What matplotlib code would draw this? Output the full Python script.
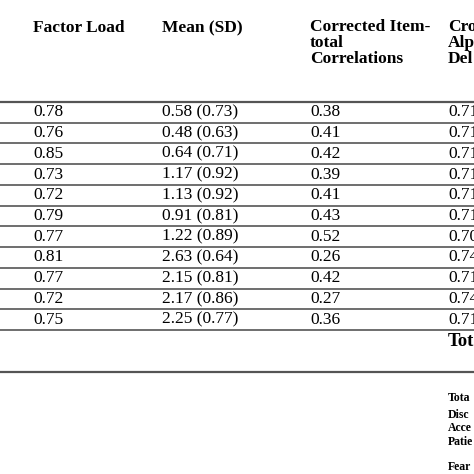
import matplotlib
matplotlib.use("Agg")
import matplotlib.pyplot as plt

headers = ["Factor Load", "Mean (SD)", "Corrected Item-\ntotal\nCorrelations", "Cro\nAlp\nDel"]
factor_load = ["0.78","0.76","0.85","0.73","0.72","0.79","0.77","0.81","0.77","0.72","0.75"]
mean_sd = ["0.58 (0.73)","0.48 (0.63)","0.64 (0.71)","1.17 (0.92)","1.13 (0.92)","0.91 (0.81)",
           "1.22 (0.89)","2.63 (0.64)","2.15 (0.81)","2.17 (0.86)","2.25 (0.77)"]
corrected = ["0.38","0.41","0.42","0.39","0.41","0.43","0.52","0.26","0.42","0.27","0.36"]
alpha_del = ["0.71","0.71","0.71","0.71","0.71","0.71","0.70","0.74","0.71","0.74","0.71"]
footer = ["Tota", "Disc", "Acce\nPatie", "Fear"]

W = H = 474
fig = plt.figure(figsize=(4.74, 4.74), dpi=100)
ax = fig.add_axes([0, 0, 1, 1])
ax.set_xlim(0, W); ax.set_ylim(H, 0); ax.axis("off")
fam = "Liberation Serif"
cols = [33, 162, 310, 448]
hs = 12.5
ax.text(cols[0], 28, headers[0], fontsize=hs, fontweight="bold", family=fam, va="center")
ax.text(cols[1], 28, headers[1], fontsize=hs, fontweight="bold", family=fam, va="center")
ax.text(cols[2], 19, headers[2], fontsize=hs, fontweight="bold", family=fam, va="top", linespacing=1.02)
ax.text(cols[3], 19, headers[3], fontsize=hs, fontweight="bold", family=fam, va="top", linespacing=1.02)

top, bot = 102, 330
n = len(factor_load)
step = (bot - top) / n
ax.plot([0, W], [top, top], color="#555", lw=1.6)
for i in range(n):
    yc = top + step * (i + 0.5)
    for c, v in zip(cols, [factor_load[i], mean_sd[i], corrected[i], alpha_del[i]]):
        ax.text(c, yc, v, fontsize=12.5, family=fam, va="center")
    ax.plot([0, W], [top + step * (i + 1)] * 2, color="#555", lw=1.2)
ax.text(cols[3], 341, "Tot", fontsize=13.5, fontweight="bold", family=fam, va="center")
ax.plot([0, W], [372, 372], color="#555", lw=1.6)
fy = [398, 415, 435, 467]
for y, t in zip(fy, footer):
    ax.text(cols[3], y, t, fontsize=8.5, fontweight="bold", family=fam, va="center", linespacing=1.25)
fig.savefig("out.png", dpi=100, facecolor="white")
